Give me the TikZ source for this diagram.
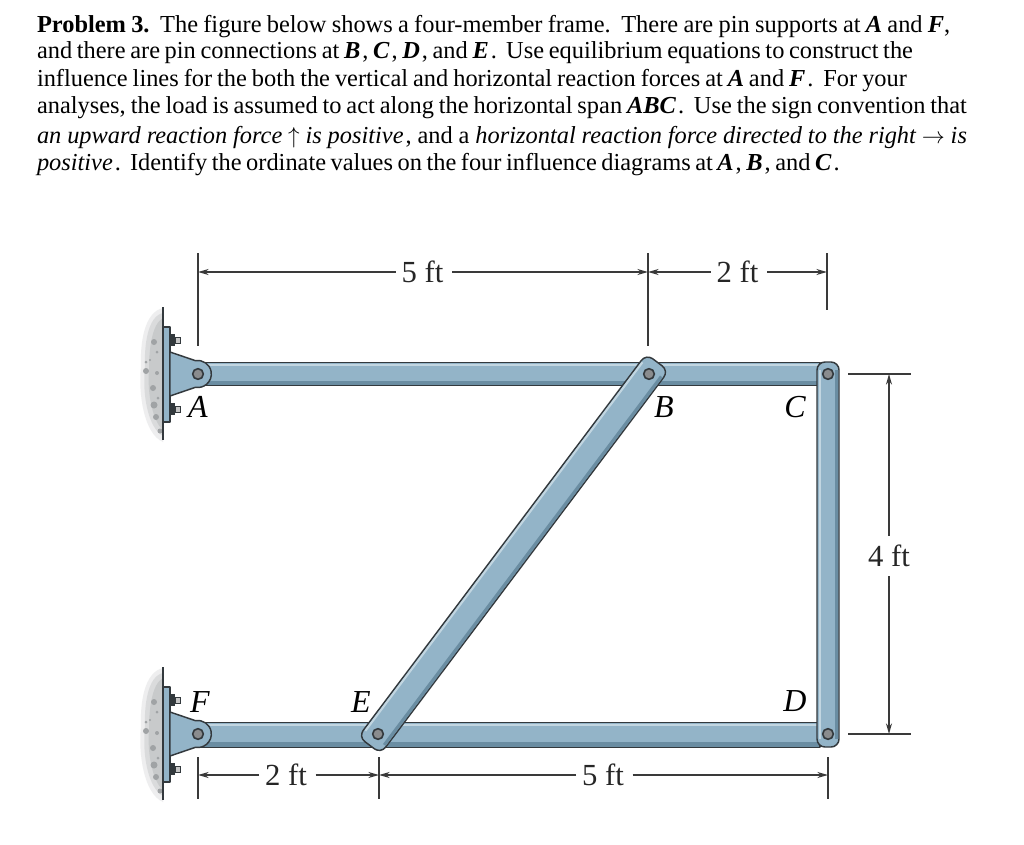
\documentclass[tikz,border=0pt]{standalone}
\usepackage{fontspec}
\setmainfont{Liberation Serif}
\usetikzlibrary{arrows.meta,calc}
\definecolor{steel}{HTML}{93B4C8}
\definecolor{steellt}{HTML}{C2D6E1}
\definecolor{steeldk}{HTML}{6A8DA2}
\definecolor{edge}{HTML}{33393D}
\definecolor{dimc}{HTML}{3A3A3A}
\definecolor{conc}{HTML}{C8CACB}
\definecolor{speck}{HTML}{A0A3A5}
\definecolor{pinc}{HTML}{8A8C8E}
\tikzset{
  x=0.75pt,y=-0.75pt,
  txt/.style={anchor=base west,inner sep=0,outer sep=0,font=\fontsize{18.3pt}{22pt}\selectfont},
  lbl/.style={inner sep=0,outer sep=0,font=\fontsize{24pt}{28pt}\selectfont\itshape,text=black},
  dimt/.style={inner sep=0,outer sep=0,font=\fontsize{23pt}{27pt}\selectfont,text=black!85},
  dimline/.style={draw=dimc,line width=1pt},
  dimarrow/.style={draw=dimc,line width=1pt,-{Stealth[length=8pt,width=4.5pt]}},
  member/.style={fill=steel,draw=edge,line width=1.1pt,line join=round},
  pinhole/.style={circle,minimum size=8pt,inner sep=0,fill=pinc,draw=edge,line width=1.2pt},
}
\newcommand{\tl}[3]{\node[txt] at (37,#1) {\makebox[#2pt][s]{#3}};}
\newcommand{\bi}[1]{\textbf{\textit{#1}}}
\newcommand{\wallsup}[1]{%
  \begin{scope}[shift={(0,#1)}]
    \fill[conc,opacity=.3] (163,-66) .. controls (144,-62) and (140,-30) .. (141,-8) .. controls (138,20) and (144,60) .. (163,68) -- cycle;
    \fill[conc,opacity=.5] (163,-61) .. controls (148,-58) and (144,-30) .. (145,-6) .. controls (142,20) and (148,54) .. (163,62) -- cycle;
    \fill[conc] (163,-56) .. controls (152,-50) and (149,-26) .. (149,-4) .. controls (147,20) and (153,48) .. (163,56) -- cycle;
    \foreach \xa/\ya/\ra in {154/-32/3,157/-22/1.5,146/-12/1.5,146/-3/3,157/-1/2,153/14/3,154/31/3.5,156/43/3,160/57/2.5,150/-14/1.2,158/24/1.5}
      \fill[speck] (\xa,\ya) circle[radius=\ra];
    \draw[edge,line width=1pt] (163,-67) -- (163,66);
    \fill[edge] (170,-40) rectangle (175,-28);
    \fill[gray!45,draw=edge,line width=.6pt] (175,-37) rectangle (180,-31);
    \fill[edge] (170,29) rectangle (175,41);
    \fill[gray!45,draw=edge,line width=.6pt] (175,32) rectangle (180,38);
    \draw[member] (163,-47) rectangle (170,48);
    \draw[member] (170,-22) -- (195.5,-13.3) arc[start angle=-100,end angle=100,radius=13.5] -- (170,22) -- cycle;
  \end{scope}}
\begin{document}
\begin{tikzpicture}
\useasboundingbox (0,0) rectangle (1024,845);
\fill[white] (0,0) rectangle (1024,845);
% ---- statement
\tl{32.5}{685}{\textbf{Problem 3.}\ \ The figure below shows a four-member frame.\ \ There are pin supports at \bi{A} and \bi{F},}
\tl{59}{657}{and there are pin connections at \bi{B}\kern1.5pt, \bi{C}\kern1.5pt, \bi{D}\kern1.5pt, and \bi{E}\kern1.5pt.\ \ Use equilibrium equations to construct the}
\tl{87}{652.5}{influence lines for the both the vertical and horizontal reaction forces at \bi{A} and \bi{F}\kern1.5pt.\ \ For your}
\tl{114}{697.5}{analyses, the load is assumed to act along the horizontal span \bi{ABC}\kern1.5pt.\ \ Use the sign convention that}
\tl{144}{697.5}{\itshape an upward reaction force $\uparrow$ is positive\upshape\kern1.5pt, and a \itshape horizontal reaction force directed to the right $\rightarrow$ is}
\tl{171}{602}{\itshape positive\upshape\kern1.5pt.\ \ Identify the ordinate values on the four influence diagrams at \bi{A}\kern1.5pt, \bi{B}\kern1.5pt, and \bi{C}\kern1.5pt.}
% ---- coordinates
\coordinate (A) at (198,374);
\coordinate (B) at (649,374);
\coordinate (C) at (828,374);
\coordinate (D) at (828,734);
\coordinate (E) at (378,734);
\coordinate (F) at (198,734);
% ---- horizontal members
\draw[member] (200,362.5) rectangle (820,385.5);
\fill[steeldk] (201,381) rectangle (819,385);
\fill[steellt] (201,364) rectangle (819,366);
\draw[member] (200,722.5) rectangle (820,747);
\fill[steeldk] (201,742) rectangle (819,746.5);
\fill[steellt] (201,724) rectangle (819,726);
% ---- supports
\wallsup{374}
\wallsup{734}
% ---- vertical member C-D
\draw[member,rounded corners=6pt] (817,362) rectangle (839,747);
\fill[steellt] (819,370) rectangle (821,739);
\fill[steeldk] (834.5,370) rectangle (838,739);
% ---- diagonal member E-B
\begin{scope}[shift={(E)},rotate=53.06]
\draw[member,rounded corners=6pt] (-14,-14) rectangle (465,14);
\fill[steellt] (-5,-13) rectangle (456,-11);
\fill[steeldk] (-5,10) rectangle (456,13.3);
\end{scope}
% ---- pins
\foreach \p/\nm in {A/pa,B/pb,C/pc,D/pd,E/pe,F/pf}
  \node[pinhole] (\nm) at (\p) {};
% ---- point labels
\node[lbl] (la) at (198,407) {A};
\node[lbl] (lb) at (664,407) {B};
\node[lbl] (lc) at (795,407) {C};
\node[lbl] (ld) at (795,701) {D};
\node[lbl] (le) at (361,702) {E};
\node[lbl] (lf) at (200,702) {F};
% ---- dimension labels
\node[dimt] (d5t) at (422.5,272) {5 ft};
\node[dimt] (d2t) at (737.5,272) {2 ft};
\node[dimt] (d2b) at (286,775) {2 ft};
\node[dimt] (d5b) at (603,775) {5 ft};
\node[dimt] (d4) at (889,556) {4 ft};
% ---- extension lines
\coordinate (t1a) at (198,253); \coordinate (t1b) at (198,346);
\coordinate (t2a) at (648,253); \coordinate (t2b) at (648,346);
\coordinate (t3a) at (827,253); \coordinate (t3b) at (827,310);
\coordinate (b1a) at (198,757); \coordinate (b1b) at (198,799);
\coordinate (b2a) at (379,757); \coordinate (b2b) at (379,799);
\coordinate (b3a) at (828,757); \coordinate (b3b) at (828,799);
\coordinate (r1a) at (848,374); \coordinate (r1b) at (911,374);
\coordinate (r2a) at (848,734); \coordinate (r2b) at (911,734);
\foreach \u/\v in {t1a/t1b,t2a/t2b,t3a/t3b,b1a/b1b,b2a/b2b,b3a/b3b,r1a/r1b,r2a/r2b}
  \draw[dimline] (\u) -- (\v);
% ---- dimension arrows
\coordinate (tl) at (198,272); \coordinate (tm) at (648,272); \coordinate (tr) at (827,272);
\coordinate (bl) at (198,775); \coordinate (bm) at (379,775); \coordinate (br) at (828,775);
\coordinate (ru) at (889,374); \coordinate (rd) at (889,734);
\draw[dimarrow] ([xshift=-4.5pt]d5t.west |- tl) -- (tl);
\draw[dimarrow] ([xshift=6.5pt]d5t.east |- tl) -- (tm);
\draw[dimarrow] ([xshift=-4.5pt]d2t.west |- tl) -- (tm);
\draw[dimarrow] ([xshift=6.5pt]d2t.east |- tl) -- (tr);
\draw[dimarrow] ([xshift=-4.5pt]d2b.west |- bl) -- (bl);
\draw[dimarrow] ([xshift=6.5pt]d2b.east |- bl) -- (bm);
\draw[dimarrow] ([xshift=-4.5pt]d5b.west |- bl) -- (bm);
\draw[dimarrow] ([xshift=6.5pt]d5b.east |- bl) -- (br);
\draw[dimarrow] ([yshift=7pt]d4.north) -- (ru);
\draw[dimarrow] ([yshift=-7pt]d4.south) -- (rd);
\end{tikzpicture}
\end{document}
